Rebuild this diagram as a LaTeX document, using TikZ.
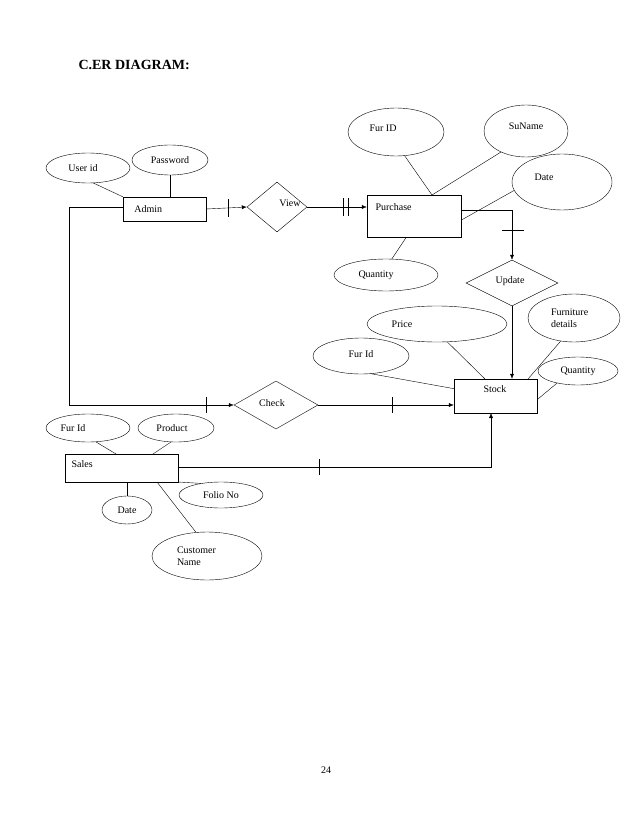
\documentclass[tikz,border=0pt]{standalone}
\usepackage{fontspec}
\setmainfont{Liberation Serif}
\usetikzlibrary{arrows.meta,shapes.geometric}

\tikzset{
  attr/.style = {draw, ellipse, inner sep=0pt},
  ent/.style = {draw, rectangle, inner sep=0pt},
  rel/.style = {draw, diamond, inner sep=0pt},
  link/.style = {thin},
  arr/.style = {-{Latex[length=5pt,width=4pt]}},
  tick/.style = {thin}
}

\begin{document}
\begin{tikzpicture}[x=1pt,y=-1pt,font=\fontsize{10}{12}\selectfont]

\useasboundingbox (0,0) rectangle (638,826);

\node [anchor=west, font=\fontsize{14}{16}\selectfont\bfseries] (title) at (75,65) {C.ER DIAGRAM:};

% entities
\node [ent, minimum width=83pt, minimum height=24pt] (admin) at (164.5,209) {};
\node [anchor=west] at (admin.west) [xshift=8pt] {Admin};
\node [ent, minimum width=94pt, minimum height=42pt] (purchase) at (414,216) {};
\node [anchor=west] at (372,207) {Purchase};
\node [ent, minimum width=83pt, minimum height=34pt] (stock) at (495.5,396) {};
\node at (495,389) {Stock};
\node [ent, minimum width=113pt, minimum height=28pt] (sales) at (121.5,468) {};
\node [anchor=west] at (68,464) {Sales};

% relations
\node [rel, minimum width=60pt, minimum height=50pt] (view) at (277,207) {};
\node at (290,203) {View};
\node [rel, minimum width=92pt, minimum height=46pt] (update) at (512,283) {};
\node at (510,281) {Update};
\node [rel, minimum width=84pt, minimum height=48pt] (check) at (276,405) {};
\node at (272,403) {Check};

% attributes
\node [attr, minimum width=84pt, minimum height=30pt] (uid) at (88,168) {\hspace{-10pt}User id};
\node [attr, minimum width=76pt, minimum height=30pt] (pwd) at (170,160) {Password};
\node [attr, minimum width=96pt, minimum height=48pt] (pfid) at (396,132) {\hspace{-26pt}\raisebox{7pt}{Fur ID}};
\node [attr, minimum width=84pt, minimum height=52pt] (suname) at (526,131) {\raisebox{9pt}{SuName}};
\node [attr, minimum width=100pt, minimum height=56pt] (pdate) at (562,182) {\hspace{-36pt}\raisebox{10pt}{Date}};
\node [attr, minimum width=104pt, minimum height=32pt] (pqty) at (386,275) {\hspace{-20pt}Quantity};
\node [attr, minimum width=140pt, minimum height=36pt] (price) at (437,324) {\hspace{-70pt}Price};
\node [attr, minimum width=96pt, minimum height=36pt] (sfid) at (361,356) {\raisebox{3pt}{Fur Id}};
\node [attr, minimum width=92pt, minimum height=48pt] (fdet) at (574,318) {\hspace{-4pt}\parbox{42pt}{Furniture\\details}};
\node [attr, minimum width=80pt, minimum height=28pt] (sqty) at (578,371) {Quantity};
\node [attr, minimum width=84pt, minimum height=28pt] (safid) at (88,428) {\hspace{-30pt}Fur Id};
\node [attr, minimum width=76pt, minimum height=28pt] (prod) at (176,428) {\hspace{-8pt}Product};
\node [attr, minimum width=84pt, minimum height=26pt] (folio) at (221,495) {Folio No};
\node [attr, minimum width=50pt, minimum height=28pt] (sdate) at (127,510) {Date};
\node [attr, minimum width=110pt, minimum height=48pt] (cname) at (207,556) {\hspace{-10pt}\parbox{50pt}{Customer\\Name}};

% attribute links
\draw [link] (uid.-70) -- (admin.north west);
\draw [link] (pwd.south) -- (pwd.south |- admin.north);
\draw [link] (pfid.-70) -- (432,195);
\draw [link] (suname.-140) -- (432,195);
\draw [link] (pdate.-170) -- (purchase.-5);
\draw [link] (pqty.70) -- (purchase.-110);
\draw [link] (price.-60) -- (485,379);
\draw [link] (sfid.-60) -- (stock.170);
\draw [link] (fdet.-120) -- (528,379);
\draw [link] (sqty.-150) -- (stock.-5);
\draw [link] (safid.-60) -- (116,454);
\draw [link] (prod.-110) -- (153,454);
\draw [link] (folio.150) -- (178,482);
\draw [link] (sdate.north) -- (sdate.north |- sales.south);
\draw [link] (cname.115) -- (157,482);

% relationships
\draw [arr] (admin.east) -- (view.west);
\draw [tick] (228,199) -- (228,217);
\draw [arr] (view.east) -- (purchase.west |- view.east);
\draw [tick] (343,198) -- (343,216);
\draw [tick] (348,198) -- (348,216);
\draw [arr] (purchase.east |- 0,210) -- (512,210) -- (update.north);
\draw [tick] (502,230) -- (524,230);
\draw [arr] (update.south) -- (stock.north -| update.south);
\draw [arr] (admin.west |- 0,207) -- (69,207) -- (69,405) -- (check.west);
\draw [tick] (206,397) -- (206,413);
\draw [arr] (check.east) -- (stock.west |- check.east);
\draw [tick] (392,397) -- (392,413);
\draw [arr] (sales.east |- 0,467) -- (491,467) -- (491,413);
\draw [tick] (319,459) -- (319,475);

\node (page) at (326,770) {24};

\end{tikzpicture}
\end{document}
